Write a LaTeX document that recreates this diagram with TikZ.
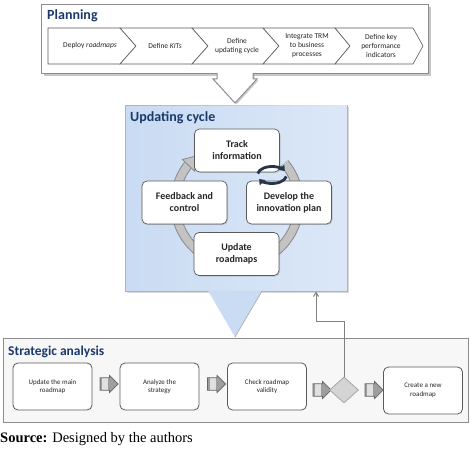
\documentclass[tikz,border=0pt]{standalone}
\usepackage{fontspec}
\setmainfont{Liberation Serif}
\newfontfamily\calfont{Carlito}
\usetikzlibrary{shapes.geometric,shapes.arrows,shadows,arrows.meta,calc}
\definecolor{navy}{HTML}{1B3A6B}
\definecolor{bordergray}{HTML}{8C8C8C}
\definecolor{darkline}{HTML}{5A5A5A}
\definecolor{blueA}{HTML}{CADCF3}
\definecolor{blueB}{HTML}{DCE8F8}
\definecolor{ringfill}{HTML}{C3C3C3}
\definecolor{ringline}{HTML}{8A8A8A}
\definecolor{iconcol}{HTML}{26354A}
\tikzset{
  panel/.style={draw=bordergray, line width=1.2pt, fill=white, anchor=north west,
    drop shadow={shadow xshift=2pt, shadow yshift=-2pt, opacity=.45, fill=gray}},
  titletext/.style={font=\calfont\bfseries\fontsize{14}{16}\selectfont, text=navy, anchor=west, inner sep=0pt},
  chev/.style={draw=darkline, line width=.6pt, fill=white},
  chevtext/.style={font=\calfont\fontsize{7.5}{9}\selectfont, align=center, text=black!85},
  cyclebox/.style={draw=darkline, line width=.7pt, fill=white, rounded corners=5pt,
    minimum width=85pt, minimum height=43pt, align=center,
    font=\calfont\bfseries\fontsize{10}{12}\selectfont, text=black!85,
    drop shadow={shadow xshift=1pt, shadow yshift=-1pt, opacity=.3, fill=gray}},
  stratbox/.style={draw=darkline, line width=.8pt, fill=white, rounded corners=5pt,
    minimum width=79pt, minimum height=47pt, align=center,
    font=\calfont\fontsize{7}{8.5}\selectfont, text=black!85},
  blockarr/.style={single arrow, draw=black!60, fill=black!38, line width=.7pt,
    minimum height=18pt, minimum width=17pt, single arrow head extend=2pt,
    single arrow head indent=0pt, inner sep=5pt,
    path picture={\fill[black!12] ([xshift=2pt,yshift=-2.5pt]path picture bounding box.north west) rectangle ([xshift=8pt,yshift=2.5pt]path picture bounding box.south west);}},
  loopline/.style={draw=black!50, line width=1pt, -{Straight Barb[length=4pt,width=5pt]}},
  cycarrow/.style={draw=iconcol, line width=2.8pt, -{Triangle[length=5pt,width=7.5pt]}}
}
\begin{document}
\begin{tikzpicture}[x=1pt,y=-1pt]
\useasboundingbox (0,0) rectangle (474,457);

% ---------- Planning ----------
\node[panel, minimum width=387pt, minimum height=69pt] (plan) at (41,4) {};
\node[titletext] (plantitle) at (47,16) {Planning};
\filldraw[chev] (48,28) -- (120,28) -- (136,46) -- (120,64) -- (48,64) -- cycle;
\filldraw[chev] (120,28) -- (192,28) -- (208,46) -- (192,64) -- (120,64) -- (136,46) -- cycle;
\filldraw[chev] (192,28) -- (263,28) -- (279,46) -- (263,64) -- (192,64) -- (208,46) -- cycle;
\filldraw[chev] (263,28) -- (335,28) -- (350,46) -- (335,64) -- (263,64) -- (279,46) -- cycle;
\filldraw[chev] (335,28) -- (413,28) -- (423,46) -- (413,64) -- (335,64) -- (350,46) -- cycle;
\node[chevtext] (p1) at (90,46) {Deploy \textit{roadmaps}};
\node[chevtext] (p2) at (165,46) {Define \textit{KITs}};
\node[chevtext] (p3) at (237,46) {Define\\updating cycle};
\node[chevtext] (p4) at (307,46) {Integrate TRM\\to business\\processes};
\node[chevtext] (p5) at (381,46) {Define key\\performance\\indicators};

% hollow arrow planning -> updating
\filldraw[draw=bordergray, line width=1pt, fill=white,
  drop shadow={shadow xshift=1.5pt, shadow yshift=-1.5pt, opacity=.4, fill=gray}]
  (217,73) -- (217,79) -- (213,79) -- (235,103) -- (257,79) -- (253,79) -- (253,73);

% ---------- Updating cycle ----------
\node[draw=black!30, line width=.6pt, fill=blueA,
  anchor=north west, minimum width=222pt, minimum height=186pt,
  drop shadow={shadow xshift=1.5pt, shadow yshift=-1.5pt, opacity=.3, fill=gray}] (ubox) at (125,105) {};
\fill[blueB, path fading=west] ([xshift=.3pt,yshift=-.3pt]ubox.north west) rectangle ([xshift=-.3pt,yshift=.3pt]ubox.south east);
\node[titletext] (utitle) at (130,118) {Updating cycle};

% ring
\draw[ringline, line width=9.6pt] ($(237,203)+(-142:62)$) arc[start angle=-142, end angle=-400, radius=62];
\draw[ringfill, line width=7.6pt] ($(237,203)+(-142:62)$) arc[start angle=-142, end angle=-400, radius=62];
\filldraw[fill=ringfill, draw=ringline, line width=.8pt] (196,156) -- (182.5,159.5) -- (194.5,171) -- cycle;

\node[cyclebox] (track) at (237,150.5) {Track\\information};
\node[cyclebox] (feed) at (184.5,202.5) {Feedback and\\control};
\node[cyclebox] (dev) at (289,202.5) {Develop the\\innovation plan};
\node[cyclebox] (upd) at (236.5,254) {Update\\roadmaps};

% circular icon
\draw[cycarrow] ($(272,175)+(-170:14.5 and 8.5)$) arc[start angle=-170, end angle=-28, x radius=14.5, y radius=8.5];
\draw[cycarrow] ($(272,175)+(10:14.5 and 8.5)$) arc[start angle=10, end angle=152, x radius=14.5, y radius=8.5];

% ---------- Strategic analysis ----------
\node[draw=black!45, line width=1.2pt, fill=black!3, anchor=north west,
  minimum width=465pt, minimum height=84pt] (sbox) at (3,338) {};
\node[titletext, font=\calfont\bfseries\fontsize{13.5}{16}\selectfont] (stitle) at (8,352) {Strategic analysis};

% triangle updating -> strategic
\fill[blueA] (208,290.7) -- (262,290.7) -- (235,337) -- cycle;
\draw[black!30, line width=.8pt] (262,291) -- (235,337);

\node[stratbox] (s1) at (52.5,386.5) {Update the main\\roadmap};
\node[stratbox] (s2) at (159.5,386.5) {Analyze the\\strategy};
\node[stratbox] (s3) at (267,386.5) {Check roadmap\\validity};
\node[stratbox] (s4) at (423,390.5) {Create a new\\roadmap};
\node[blockarr] (a1) at (106,384) {};
\node[blockarr] (a2) at (213.5,384) {};
\node[blockarr] (a3) at (319,390) {};
\node[blockarr] (a4) at (371,390) {};
\node[diamond, draw=black!35, fill=black!17, line width=.8pt, minimum width=29pt, minimum height=26pt, inner sep=0pt] (dia) at (344,390) {};

% feedback loop
\coordinate (k) at (316,321);
\draw[loopline] (dia.north) |- (k) -- (k |- ubox.south);

% source
\node[anchor=west, inner sep=0pt, font=\fontsize{14.5}{16}\selectfont] (src) at (0,439) {\textbf{Source:} Designed by the authors};
\end{tikzpicture}
\end{document}
